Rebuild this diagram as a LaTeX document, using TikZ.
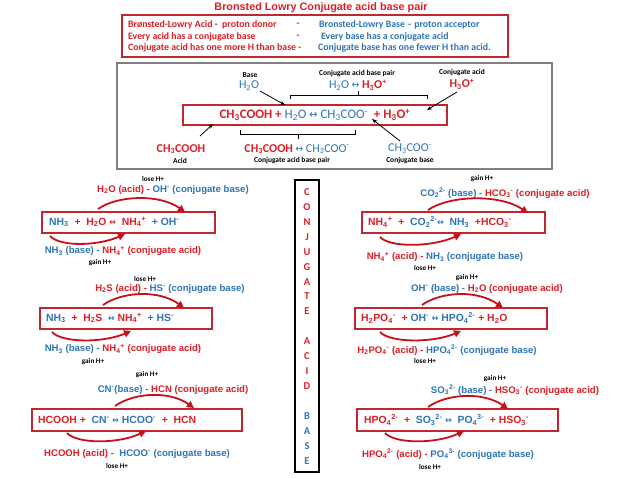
\documentclass[tikz,border=0pt]{standalone}
\usepackage{fontspec}
\setmainfont{Carlito}
\newfontfamily\arialf{Liberation Sans}
\newfontfamily\symf{DejaVu Sans}
\usetikzlibrary{arrows.meta}
\definecolor{myred}{RGB}{222,30,38}
\definecolor{myblue}{RGB}{46,117,182}
\definecolor{boxred}{RGB}{192,40,45}
\definecolor{arrred}{RGB}{200,16,26}
\newcommand\R[1]{\textcolor{myred}{#1}}
\newcommand\B[1]{\textcolor{myblue}{#1}}
\newcommand\dn[1]{\textsubscript{#1}}
\newcommand\up[1]{\textsuperscript{#1}}
\newcommand\lr{{\symf\scalebox{0.75}[0.9]{↔}}}
\tikzset{
  eqbox/.style={draw=boxred, line width=1.3pt, inner sep=0pt},
  blk/.style={font=\arialf\bfseries\fontsize{10.4}{12}\selectfont, inner sep=0pt, anchor=west},
  lbl/.style={font=\arialf\bfseries\fontsize{9.6}{11}\selectfont, inner sep=0pt},
  hplus/.style={font=\bfseries\fontsize{7.2}{8}\selectfont, inner sep=0pt},
  curv/.style={arrred, line width=1.8pt, -{Triangle[length=7pt,width=7pt]}},
  topline/.style={font=\bfseries\fontsize{9.8}{11}\selectfont, inner sep=0pt, anchor=west},
  small/.style={font=\bfseries\fontsize{7.5}{9}\selectfont, inner sep=0pt},
  midf/.style={font=\fontsize{12}{14}\selectfont, inner sep=0pt},
  blarrow/.style={line width=0.8pt, -{Stealth[length=5pt,width=4pt]}},
  brack/.style={line width=0.6pt},
  letter/.style={font=\bfseries\fontsize{10.5}{12}\selectfont, inner sep=0pt}
}
\begin{document}
\begin{tikzpicture}[x=1pt,y=-1pt]
\useasboundingbox (0,0) rectangle (638,478);
\fill[white] (0,0) rectangle (638,478);

% title and top box
\node[font=\arialf\bfseries\fontsize{10.8}{12}\selectfont, text=myred, inner sep=0pt] (title) at (321,8) {Bronsted Lowry Conjugate acid base pair};
\node[draw=boxred, line width=1.2pt, minimum width=386pt, minimum height=42pt, inner sep=0pt] (topbox) at (315,36) {};
\node[topline] (t1a) at (128,25) {\R{Brønsted-Lowry Acid -\ \ proton donor}};
\node[topline] (t2a) at (128,37) {\R{Every acid has a conjugate base}};
\node[topline] (t3a) at (128,48) {\R{Conjugate acid has one more H than base -}};
\node[topline, anchor=center] (t1d) at (298,25) {\R{-}};
\node[topline, anchor=center] (t2d) at (298,37) {\R{-}};
\node[topline] (t1b) at (319,25) {\B{Bronsted-Lowry Base – proton acceptor}};
\node[topline] (t2b) at (321,37) {\B{Every base has a conjugate acid}};
\node[topline] (t3b) at (318,48) {\B{Conjugate base has one fewer H than acid.}};

% middle box
\node[draw=gray, line width=1.1pt, minimum width=435pt, minimum height=106pt, inner sep=0pt] (midbox) at (334.5,116) {};
\node[eqbox, minimum width=264pt, minimum height=20pt] (mainbox) at (315,115) {};
\node[font=\fontsize{13}{15}\selectfont, inner sep=0pt] (maineq) at (315,115) {\R{\bfseries CH\dn{3}COOH +} \B{H\dn{2}O \lr\ CH\dn{3}COO\up{-}} \R{\bfseries\ + H\dn{3}O\up{+}}};

\node[small] (lbase) at (250,75) {Base};
\node[midf] (lh2o) at (249,86) {\B{H\dn{2}O}};
\node[small] (lpair1) at (357,74) {Conjugate acid base pair};
\node[midf] (lpair1eq) at (358,85) {\B{H\dn{2}O \lr} \R{\bfseries H\dn{3}O\up{+}}};
\node[small] (lcacid) at (462,73) {Conjugate acid};
\node[midf] (lh3o) at (462,84) {\R{\bfseries H\dn{3}O\up{+}}};
\draw[brack] (290,99) -- (290,95) -- (427,95) -- (427,99);
\draw[brack] (358,95) -- (358,91);
\coordinate (a1s) at (260,91); \coordinate (a1e) at (285,105);
\coordinate (a2s) at (457,92); \coordinate (a2e) at (427,110);
\draw[blarrow] (a1s) -- (a1e);
\draw[blarrow] (a2s) -- (a2e);

\node[midf] (lacid) at (181,149) {\R{\bfseries CH\dn{3}COOH}};
\node[small] (lacidt) at (180,161) {Acid};
\node[midf] (lpair2eq) at (297,149) {\R{\bfseries CH\dn{3}COOH} \B{\lr\ CH\dn{3}COO\up{-}}};
\node[small] (lpair2) at (292,161) {Conjugate acid base pair};
\node[midf] (lcbase) at (410,149) {\B{CH\dn{3}COO\up{-}}};
\node[small] (lcbaset) at (410,161) {Conjugate base};
\draw[brack] (240,130) -- (240,134) -- (355,134) -- (355,130);
\draw[brack] (298,134) -- (298,139);
\coordinate (a3s) at (200,136); \coordinate (a3e) at (213,124);
\coordinate (a4s) at (400,141); \coordinate (a4e) at (372,119);
\draw[blarrow] (a3s) -- (a3e);
\draw[blarrow] (a4s) -- (a4e);

% vertical box
\node[draw=black, line width=1.3pt, minimum width=24pt, minimum height=292pt, inner sep=0pt] (vbox) at (307,326) {};
\foreach \ch [count=\i from 0] in {C,O,N,J,U,G,A,T,E} {
  \node[letter, text=myred] (v\i) at (307,{192+14.94*\i}) {\ch};
}
\foreach \ch [count=\i from 10] in {A,C,I,D} {
  \node[letter, text=myred] (v\i) at (307,{192+14.94*\i}) {\ch};
}
\foreach \ch [count=\i from 15] in {B,A,S,E} {
  \node[letter, text=myblue] (v\i) at (307,{192+14.94*\i}) {\ch};
}

% ---- Block 1
\node[hplus] (b1top) at (153,179) {lose H+};
\node[lbl] (b1lt) at (173,190) {\R{H\dn{2}O (acid) -} \B{OH\up{-} (conjugate base)}};
\node[eqbox, minimum width=173pt, minimum height=21pt] (b1) at (128.5,222.5) {};
\node[blk] (b1eq) at (49,222) {\B{NH\dn{3}}\ \ \R{+\ \ H\dn{2}O \lr\ \ NH\dn{4}\up{+}}\ \ \B{+ OH\up{-}}};
\coordinate (c1s) at (98,209); \coordinate (c1e) at (185,212);
\draw[curv] (c1s) .. controls (118,195) and (160,194) .. (c1e);
\coordinate (d1s) at (50,236); \coordinate (d1e) at (125,234);
\draw[curv] (d1s) .. controls (60,247) and (98,246) .. (d1e);
\node[lbl] (b1lb) at (123,251) {\B{NH\dn{3} (base) -}\ \R{NH\dn{4}\up{+} (conjugate acid)}};
\node[hplus] (b1bot) at (100,263) {gain H+};

% ---- Block 2
\node[hplus] (b2top) at (145,279) {lose H+};
\node[lbl] (b2lt) at (170,289) {\R{H\dn{2}S (acid) -} \B{HS\up{-} (conjugate base)}};
\node[eqbox, minimum width=172pt, minimum height=21pt] (b2) at (126,318.5) {};
\node[blk] (b2eq) at (46,318) {\B{NH\dn{3}}\ \ \R{+\ \ H\dn{2}S}\ \ \B{\lr}\ \R{NH\dn{4}\up{+}}\ \ \B{+ HS\up{-}}};
\coordinate (c2s) at (103,305); \coordinate (c2e) at (184,308);
\draw[curv] (c2s) .. controls (123,291) and (160,290) .. (c2e);
\coordinate (d2s) at (52,332); \coordinate (d2e) at (131,331);
\draw[curv] (d2s) .. controls (62,343) and (103,343) .. (d2e);
\node[lbl] (b2lb) at (123,349) {\B{NH\dn{3} (base) -}\ \R{NH\dn{4}\up{+} (conjugate acid)}};
\node[hplus] (b2bot) at (93,362) {gain H+};

% ---- Block 3
\node[hplus] (b3top) at (147,375) {gain H+};
\node[lbl] (b3lt) at (173,390) {\B{CN\up{-}(base) -}\ \R{HCN (conjugate acid)}};
\node[eqbox, minimum width=210pt, minimum height=22pt] (b3) at (137,420) {};
\node[blk] (b3eq) at (38,420) {\R{HCOOH +}\ \ \B{CN\up{-} \lr\ HCOO\up{-}}\ \ \R{+\ \ HCN}};
\coordinate (c3s) at (115,406); \coordinate (c3e) at (194,408);
\draw[curv] (c3s) .. controls (135,392) and (170,391) .. (c3e);
\coordinate (d3s) at (67,433); \coordinate (d3e) at (146,431);
\draw[curv] (d3s) .. controls (77,444) and (118,444) .. (d3e);
\node[lbl] (b3lb) at (137,454) {\R{HCOOH (acid) -}\ \ \B{HCOO\up{-} (conjugate base)}};
\node[hplus] (b3bot) at (117,466) {lose H+};

% ---- Block 4
\node[hplus] (b4top) at (482,179) {gain H+};
\node[lbl] (b4lt) at (505,193) {\B{CO\dn{2}\up{2-} (base) -} \R{HCO\dn{3}\up{-} (conjugate acid)}};
\node[eqbox, minimum width=183pt, minimum height=21pt] (b4) at (453.5,222.5) {};
\node[blk] (b4eq) at (368,222) {\R{NH\dn{4}\up{+}\ \ +}\ \ \B{CO\dn{2}\up{2-}\lr\ \ NH\dn{3}}\ \ \R{+HCO\dn{3}\up{-}}};
\coordinate (c4s) at (428,210); \coordinate (c4e) at (528,213);
\draw[curv] (c4s) .. controls (450,195) and (500,194) .. (c4e);
\coordinate (d4s) at (380,237); \coordinate (d4e) at (461,234);
\draw[curv] (d4s) .. controls (390,248) and (433,247) .. (d4e);
\node[lbl] (b4lb) at (445,257) {\R{NH\dn{4}\up{+} (acid) -} \B{NH\dn{3} (conjugate base)}};
\node[hplus] (b4bot) at (425,268) {lose H+};

% ---- Block 5
\node[hplus] (b5top) at (467,278) {gain H+};
\node[lbl] (b5lt) at (487,289) {\B{OH\up{-} (base) -} \R{H\dn{2}O (conjugate acid)}};
\node[eqbox, minimum width=192pt, minimum height=21pt] (b5) at (451,318.5) {};
\node[blk] (b5eq) at (361,318) {\R{H\dn{2}PO\dn{4}\up{-}\ \ +}\ \B{OH\up{-} \lr\ HPO\dn{4}\up{2-}}\ \R{+ H\dn{2}O}};
\coordinate (c5s) at (422,305); \coordinate (c5e) at (503,308);
\draw[curv] (c5s) .. controls (442,291) and (478,290) .. (c5e);
\coordinate (d5s) at (380,332); \coordinate (d5e) at (461,331);
\draw[curv] (d5s) .. controls (390,343) and (433,343) .. (d5e);
\node[lbl] (b5lb) at (447,350) {\R{H\dn{2}PO\dn{4}\up{-} (acid) -} \B{HPO\dn{4}\up{2-} (conjugate base)}};
\node[hplus] (b5bot) at (425,361) {lose H+};

% ---- Block 6
\node[hplus] (b6top) at (495,379) {gain H+};
\node[lbl] (b6lt) at (515,390) {\B{SO\dn{3}\up{2-} (base) -} \R{HSO\dn{3}\up{-} (conjugate acid)}};
\node[eqbox, minimum width=201pt, minimum height=22pt] (b6) at (457.5,420) {};
\node[blk] (b6eq) at (364,420) {\R{HPO\dn{4}\up{2-}\ \ +}\ \ \B{SO\dn{3}\up{2-} \lr\ \ PO\dn{4}\up{3-}}\ \ \R{+ HSO\dn{3}\up{-}}};
\coordinate (c6s) at (428,407); \coordinate (c6e) at (508,409);
\draw[curv] (c6s) .. controls (448,393) and (484,392) .. (c6e);
\coordinate (d6s) at (385,433); \coordinate (d6e) at (464,431);
\draw[curv] (d6s) .. controls (395,444) and (436,444) .. (d6e);
\node[lbl] (b6lb) at (448,454) {\R{HPO\dn{4}\up{2-} (acid) -} \B{PO\dn{4}\up{3-} (conjugate base)}};
\node[hplus] (b6bot) at (430,467) {lose H+};
\end{tikzpicture}
\end{document}
